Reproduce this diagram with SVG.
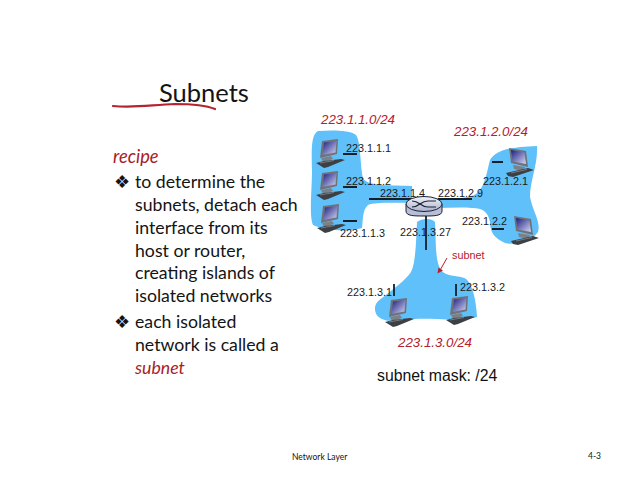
<svg xmlns="http://www.w3.org/2000/svg" width="638" height="478" viewBox="0 0 638 478">
<style>
.t{font-family:"Lato","Carlito","Liberation Sans",sans-serif;fill:#141414}
.b{font-size:17.700px}
.bu{font-size:18px}
.r{fill:#a81c28;font-style:italic}
.a{font-family:"Liberation Sans",Arial,sans-serif;font-size:10.800px;fill:#1a1a1a}
.n{font-family:"Liberation Sans",Arial,sans-serif;font-size:13.300px;font-style:italic;fill:#b5202a}
.l{stroke:#12202c;stroke-width:1.800;fill:none}
.blob{fill:#5fc0fa}
</style>
<defs>
<linearGradient id="scr" x1="0" y1="0" x2="1" y2="1"><stop offset="0" stop-color="#1c1c80"/><stop offset="1" stop-color="#d4d8f4"/></linearGradient>
<linearGradient id="rt" x1="0" y1="0" x2="0" y2="1"><stop offset="0" stop-color="#f2f3fa"/><stop offset="1" stop-color="#aab0cc"/></linearGradient>
<g id="pc">
<path d="M6 2 L22 0 L21 15 L4 19 Z" fill="#6f7378"/>
<path d="M8 3.500 L20.500 2 L19.500 13.500 L6.500 16 Z" fill="url(#scr)"/>
<path d="M5 19 L15 17 L17 20 L7 23 Z" fill="#7d8187"/>
<path d="M0 24 L8 22 L25 20 L29 21 L12 28 L8 29 Z" fill="#3c4044"/>
<path d="M4 24 L18 21.500" stroke="#888" stroke-width="0.800"/>
</g>
<g id="pcr">
<path d="M6 0 L23 3 L25 19 L8 15 Z" fill="#6f7378"/>
<path d="M8 2 L21.500 4.500 L23 16 L9.500 13.500 Z" fill="url(#scr)"/>
<path d="M10 17 L22 19 L20 23 L11 21 Z" fill="#7d8187"/>
<path d="M3 25 L25 20 L31 22 L10 29 L5 28 Z" fill="#3c4044"/>
<path d="M8 25 L24 21.500" stroke="#888" stroke-width="0.800"/>
</g>
</defs>
<g id="title">
<text class="t" x="159" y="102" font-size="25.500">Subnets</text>
<path d="M113 106 C135 108 150 105 175 104 C190 104 205 105 215 109" fill="none" stroke="#b32330" stroke-width="2.200" stroke-linecap="round"/>
</g>
<g id="recipe">
<text class="t r" x="113" y="163" font-size="18.300" style="fill:#a81c28">recipe</text>
<text class="t bu" x="114" y="188">❖</text>
<text class="t b" x="135" y="188">to determine the</text>
<text class="t b" x="135" y="211">subnets, detach each</text>
<text class="t b" x="135" y="234">interface from its</text>
<text class="t b" x="135" y="257">host or router,</text>
<text class="t b" x="135" y="279">creating islands of</text>
<text class="t b" x="135" y="302">isolated networks</text>
<text class="t bu" x="114" y="328">❖</text>
<text class="t b" x="135" y="328">each isolated</text>
<text class="t b" x="135" y="351">network is called a</text>
<text class="t b r" x="135" y="374" style="fill:#a81c28">subnet</text>
</g>
<g id="subnet-1">
<path class="blob" d="M318 131 C332 130 350 130 356 135 C361 142 360 165 363 178 C367 186 385 185 412 186 L412 203 C395 203 375 202 368 205 C362 210 363 222 362 228 C350 232 325 231 313 225 C309 215 312 190 312 170 C312 155 310 135 318 131 Z"/>
<use href="#pc" x="316" y="139"/>
<use href="#pc" x="316" y="171"/>
<use href="#pc" x="317" y="204"/>
</g>
<g id="subnet-2">
<path class="blob" d="M436 198 C450 199 468 199 476 194 C486 186 487 170 490 160 C496 150 510 147 537 146 C538 165 530 180 530 197 C533 212 541 222 538 232 C530 243 515 245 505 243 C494 238 490 232 490 222 C488 212 483 208 472 208 C460 207 448 208 436 208 Z"/>
<use href="#pcr" x="503" y="148"/>
<use href="#pcr" x="508" y="216"/>
</g>
<g id="subnet-3">
<path class="blob" d="M417 222 C422 218 432 218 435 222 C436 235 435 252 438 263 C440 272 445 275 455 276 C462 277 466 278 468 281 C473 288 476 300 477 317 C460 322 435 318 415 319 C400 320 390 322 385 320 C378 318 375 314 375 309 C375 303 378 301 382 298 C392 290 406 280 411 272 C416 262 416 240 417 222 Z"/>
<use href="#pc" x="385" y="298"/>
<use href="#pc" x="446" y="296"/>
</g>
<g id="connectors">
<path class="l" d="M343 154 H357 M343 187 H357 M343 221 H357"/>
<path class="l" d="M369 199 H412 M438 199 H472"/>
<path class="l" d="M492 162 H503 M492 229 H504"/>
<path class="l" d="M426 216 V250"/>
<path class="l" d="M394 284 V296 M456 284 V296"/>
<path d="M447 258 L439 272" stroke="#b5202a" stroke-width="1" fill="none"/>
<path d="M437.500 273.500 L438.500 267.500 L443 270.500 Z" fill="#b5202a"/>
</g>
<g id="router">
<path d="M406 204 V211 C406 216 414 216 424 216 C434 216 442 216 442 211 V204 Z" fill="#b7bdd6" stroke="#1b2230"/>
<ellipse cx="424" cy="204" rx="18" ry="7.500" fill="url(#rt)" stroke="#1b2230"/>
<path d="M412 201 C420 201 420 207 428 207 H436 M412 207 C420 207 420 201 428 201 H436" stroke="#1b2230" stroke-width="1.200" fill="none"/>
</g>
<g id="labels">
<text class="n" x="321" y="124">223.1.1.0/24</text>
<text class="n" x="454" y="136">223.1.2.0/24</text>
<text class="n" x="398" y="347">223.1.3.0/24</text>
<text class="a" x="346" y="152">223.1.1.1</text>
<text class="a" x="346" y="185">223.1.1.2</text>
<text class="a" x="380" y="197">223.1.1.4</text>
<text class="a" x="438" y="197">223.1.2.9</text>
<text class="a" x="483" y="185">223.1.2.1</text>
<text class="a" x="462" y="225">223.1.2.2</text>
<text class="a" x="340" y="237">223.1.1.3</text>
<text class="a" x="400" y="236">223.1.3.27</text>
<text class="a" x="347" y="296">223.1.3.1</text>
<text class="a" x="460" y="291">223.1.3.2</text>
<text class="a" x="452" y="259" style="fill:#b5202a">subnet</text>
<text x="377" y="381" font-family="Liberation Sans, Arial, sans-serif" font-size="15.800" fill="#111">subnet mask: /24</text>
</g>
<g id="footer">
<text class="t" x="292" y="460" font-size="8.500">Network Layer</text>
<text class="t" x="588" y="459" font-size="8.500">4-3</text>
</g>
</svg>
